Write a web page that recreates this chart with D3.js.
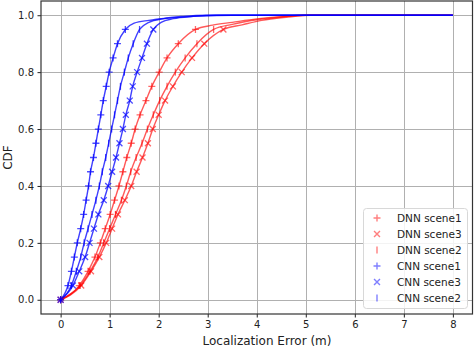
<!DOCTYPE html>
<html>
<head>
<meta charset="utf-8">
<script src="https://cdn.jsdelivr.net/npm/d3@7"></script>
<style>
  html, body { margin: 0; padding: 0; background: #fff; }
  svg { display: block; font-family: "DejaVu Sans", sans-serif; }
</style>
</head>
<body>
<svg id="chart" width="474" height="347"></svg>
<script>
// ---- data ----
const cdfLevels = [0, 0.05, 0.1, 0.15, 0.2, 0.25, 0.3, 0.35, 0.4, 0.45, 0.5, 0.55, 0.6, 0.65, 0.7, 0.75, 0.8, 0.85, 0.9, 0.95];

const dnnScene1 = [0, 0.38, 0.56, 0.70, 0.81, 0.91, 1.01, 1.10, 1.19, 1.27, 1.35, 1.44, 1.52, 1.62, 1.74, 1.86, 2.01, 2.17, 2.40, 2.75];
const dnnScene1TailErr = [3.1, 3.5, 4.0, 4.5, 5.0, 8];
const dnnScene1TailCdf = [0.965, 0.975, 0.987, 0.995, 1, 1];

const dnnScene2 = [0, 0.40, 0.60, 0.76, 0.88, 1.00, 1.12, 1.24, 1.34, 1.43, 1.54, 1.66, 1.77, 1.89, 2.02, 2.17, 2.34, 2.54, 2.78, 3.12];
const dnnScene2TailErr = [3.5, 4.0, 4.5, 5.0, 8];
const dnnScene2TailCdf = [0.968, 0.984, 0.994, 1, 1];

const dnnScene3 = [0, 0.42, 0.62, 0.79, 0.93, 1.05, 1.17, 1.31, 1.44, 1.55, 1.67, 1.78, 1.88, 2.00, 2.13, 2.29, 2.47, 2.68, 2.93, 3.32];
const dnnScene3TailErr = [3.7, 4.1, 4.6, 5.1, 8];
const dnnScene3TailCdf = [0.966, 0.982, 0.993, 1, 1];

const cnnScene1 = [0, 0.15, 0.22, 0.28, 0.34, 0.41, 0.47, 0.52, 0.57, 0.61, 0.67, 0.72, 0.77, 0.82, 0.87, 0.93, 0.99, 1.07, 1.16, 1.32];
const cnnScene1TailErr = [1.5, 1.8, 2.2, 2.8, 3.5, 8];
const cnnScene1TailCdf = [0.972, 0.982, 0.99, 0.997, 1, 1];

const cnnScene2 = [0, 0.22, 0.32, 0.41, 0.48, 0.56, 0.64, 0.72, 0.79, 0.85, 0.92, 0.98, 1.04, 1.10, 1.16, 1.22, 1.30, 1.38, 1.48, 1.61];
const cnnScene2TailErr = [1.8, 2.1, 2.5, 3.0, 8];
const cnnScene2TailCdf = [0.975, 0.988, 0.996, 1, 1];

const cnnScene3 = [0, 0.25, 0.38, 0.50, 0.59, 0.68, 0.77, 0.88, 0.97, 1.05, 1.13, 1.20, 1.27, 1.33, 1.41, 1.47, 1.56, 1.66, 1.76, 1.89];
const cnnScene3TailErr = [2.05, 2.3, 2.7, 3.2, 8];
const cnnScene3TailCdf = [0.975, 0.988, 0.996, 1, 1];

const xTicks = [0, 1, 2, 3, 4, 5, 6, 7, 8];
const yTicks = [0.0, 0.2, 0.4, 0.6, 0.8, 1.0];
const xLabel = "Localization Error (m)";
const yLabel = "CDF";

// legend order as in the figure
const series = [
  { name: "DNN scene1", err: dnnScene1, tailErr: dnnScene1TailErr, tailCdf: dnnScene1TailCdf, color: "#ff0000", marker: "plus" },
  { name: "DNN scene3", err: dnnScene3, tailErr: dnnScene3TailErr, tailCdf: dnnScene3TailCdf, color: "#ff0000", marker: "x" },
  { name: "DNN scene2", err: dnnScene2, tailErr: dnnScene2TailErr, tailCdf: dnnScene2TailCdf, color: "#ff0000", marker: "vline" },
  { name: "CNN scene1", err: cnnScene1, tailErr: cnnScene1TailErr, tailCdf: cnnScene1TailCdf, color: "#0000ff", marker: "plus" },
  { name: "CNN scene3", err: cnnScene3, tailErr: cnnScene3TailErr, tailCdf: cnnScene3TailCdf, color: "#0000ff", marker: "x" },
  { name: "CNN scene2", err: cnnScene2, tailErr: cnnScene2TailErr, tailCdf: cnnScene2TailCdf, color: "#0000ff", marker: "vline" }
];

// ---- layout ----
const svg = d3.select("#chart");
const L = 41, R = 472.5, T = 1, B = 314;

const x = d3.scaleLinear().domain([-0.4, 8.4]).range([L, R]);
const y = d3.scaleLinear().domain([-0.05, 1.05]).range([B, T]);

// grid
const grid = svg.append("g").attr("stroke", "#b0b0b0").attr("stroke-width", 1);
grid.selectAll("line.gx").data(xTicks).join("line")
  .attr("x1", d => Math.round(x(d)) + 0.5).attr("x2", d => Math.round(x(d)) + 0.5)
  .attr("y1", T).attr("y2", B);
grid.selectAll("line.gy").data(yTicks).join("line")
  .attr("y1", d => Math.round(y(d)) + 0.5).attr("y2", d => Math.round(y(d)) + 0.5)
  .attr("x1", L).attr("x2", R);

// axes via d3
const xAxis = svg.append("g").attr("transform", `translate(0,${B})`)
  .call(d3.axisBottom(x).tickValues(xTicks).tickFormat(d3.format("d")).tickSize(3.5).tickPadding(3.5));
const yAxis = svg.append("g").attr("transform", `translate(${L},0)`)
  .call(d3.axisLeft(y).tickValues(yTicks).tickFormat(d3.format(".1f")).tickSize(3.5).tickPadding(3.5));
[xAxis, yAxis].forEach(a => {
  a.select(".domain").remove();
  a.selectAll("text").attr("font-size", 10).attr("font-family", "DejaVu Sans").attr("fill", "#222");
  a.selectAll("line").attr("stroke", "#222");
});

// lines
const lineGen = d3.line().x(d => x(d[0])).y(d => y(d[1])).curve(d3.curveMonotoneX);
const plot = svg.append("g");
series.forEach(s => {
  const pts = s.err.map((e, i) => [e, cdfLevels[i]]);
  s.tailErr.forEach((e, i) => pts.push([e, s.tailCdf[i]]));
  plot.append("path")
    .attr("d", lineGen(pts))
    .attr("fill", "none")
    .attr("stroke", s.color)
    .attr("stroke-opacity", s.color === "#0000ff" ? 0.75 : 0.65)
    .attr("stroke-width", 1.4);
});

function markerPath(type, r) {
  if (type === "plus") return `M${-r},0H${r}M0,${-r}V${r}`;
  if (type === "x") { const q = r * 0.85; return `M${-q},${-q}L${q},${q}M${-q},${q}L${q},${-q}`; }
  return `M0,${-r}V${r}`;
}

// markers
series.forEach(s => {
  plot.append("g").selectAll("path").data(s.err.map((e, i) => [e, cdfLevels[i]])).join("path")
    .attr("transform", d => `translate(${x(d[0])},${y(d[1])})`)
    .attr("d", markerPath(s.marker, 3.5))
    .attr("fill", "none")
    .attr("stroke", s.color)
    .attr("stroke-opacity", s.color === "#0000ff" ? 0.7 : 0.6)
    .attr("stroke-width", 1.3);
});

// frame
svg.append("rect").attr("x", L).attr("y", T).attr("width", R - L).attr("height", B - T)
  .attr("fill", "none").attr("stroke", "#333").attr("stroke-width", 1.2);

// axis labels
svg.append("text").attr("x", 267).attr("y", 345).attr("text-anchor", "middle")
  .attr("font-size", 12).attr("fill", "#222").text(xLabel);
svg.append("text").attr("transform", `translate(12,${(T + B) / 2}) rotate(-90)`)
  .attr("text-anchor", "middle").attr("font-size", 12).attr("fill", "#222").text(yLabel);

// legend
const lg = svg.append("g");
lg.append("rect").attr("x", 363.5).attr("y", 208.5).attr("width", 104).attr("height", 100)
  .attr("rx", 3).attr("fill", "#fff").attr("fill-opacity", 0.85).attr("stroke", "#d8d8d8");
series.forEach((s, i) => {
  const cy = 218 + i * 16;
  lg.append("path").attr("transform", `translate(377,${cy})`)
    .attr("d", markerPath(s.marker, 3.5))
    .attr("fill", "none").attr("stroke", s.color).attr("stroke-opacity", 0.5).attr("stroke-width", 1.4);
  lg.append("text").attr("x", 397).attr("y", cy + 4).attr("font-size", 10.5).attr("fill", "#222").text(s.name);
});
</script>
</body>
</html>
